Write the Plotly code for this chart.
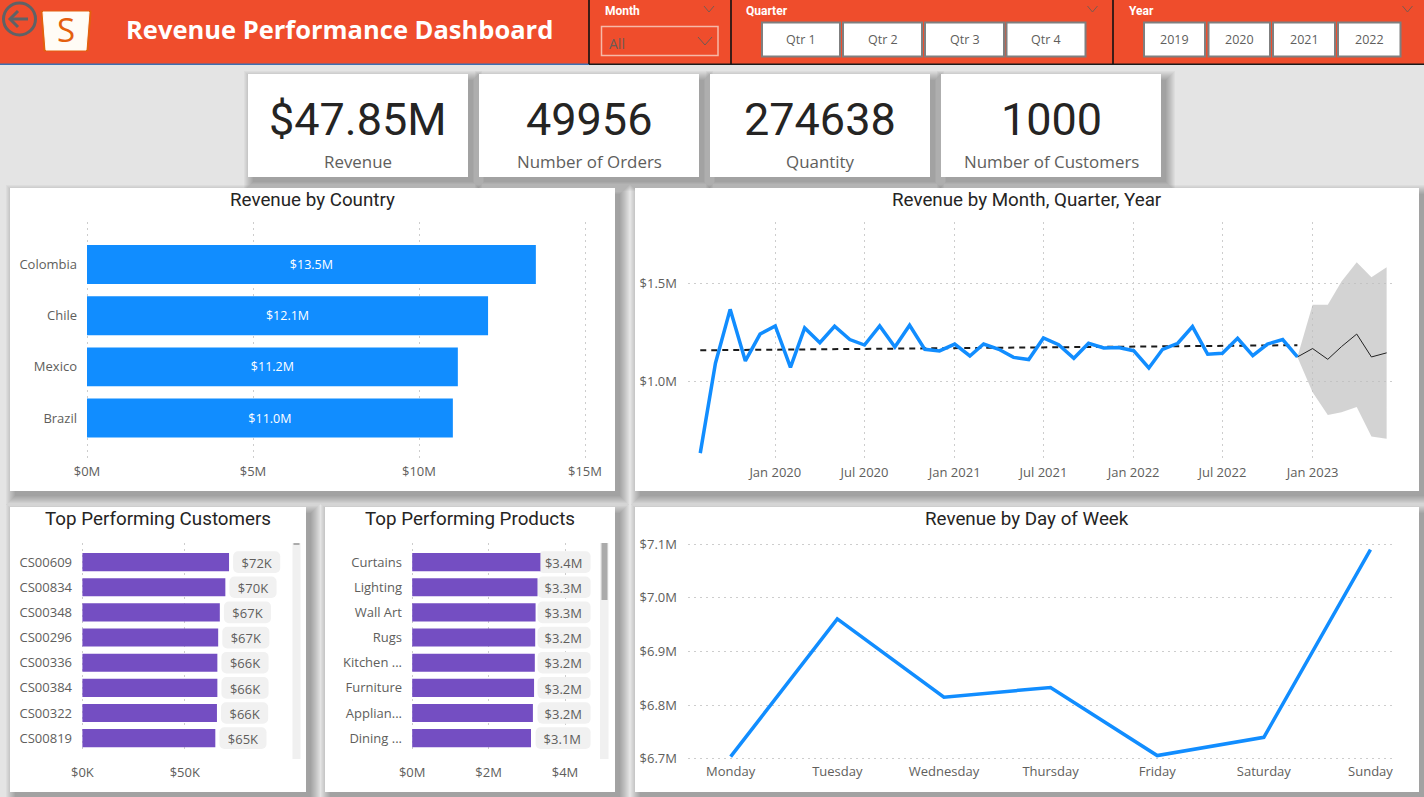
import pandas as pd
import plotly.graph_objects as go

W, H = 1424, 797

# ---------- data ----------
country_names = ["Colombia", "Chile", "Mexico", "Brazil"]
country_rev = [13.52, 12.08, 11.17, 11.02]
country_text = ["$13.5M", "$12.1M", "$11.2M", "$11.0M"]

month_rev = [0.633, 1.092, 1.367, 1.104, 1.241, 1.282, 1.071, 1.272, 1.197, 1.281, 1.213,
             1.185, 1.282, 1.175, 1.286, 1.163, 1.155, 1.190, 1.129, 1.190, 1.163, 1.122,
             1.111, 1.221, 1.187, 1.117, 1.194, 1.170, 1.172, 1.156, 1.068, 1.163, 1.194,
             1.279, 1.138, 1.143, 1.219, 1.131, 1.190, 1.213, 1.124]
month_dates = pd.date_range("2019-08-01", periods=len(month_rev), freq="MS")
trend_dates = ["2019-08-01", "2022-12-01"]
trend_vals = [1.158, 1.184]
fc_dates = ["2022-12-01", "2023-01-01", "2023-02-01", "2023-03-01", "2023-04-01", "2023-05-01", "2023-06-01"]
fc_mid = [1.124, 1.167, 1.112, 1.177, 1.241, 1.124, 1.145]
fc_up = [1.124, 1.391, 1.391, 1.509, 1.607, 1.531, 1.582]
fc_lo = [1.124, 0.944, 0.828, 0.842, 0.869, 0.718, 0.706]
month_ticks = ["2020-01-01", "2020-07-01", "2021-01-01", "2021-07-01", "2022-01-01", "2022-07-01", "2023-01-01"]
month_ticktext = ["Jan 2020", "Jul 2020", "Jan 2021", "Jul 2021", "Jan 2022", "Jul 2022", "Jan 2023"]

cust_names = ["CS00609", "CS00834", "CS00348", "CS00296", "CS00336", "CS00384", "CS00322", "CS00819"]
cust_rev = [71.6, 69.8, 67.1, 66.3, 65.9, 65.9, 65.7, 64.9]
cust_text = ["$72K", "$70K", "$67K", "$67K", "$66K", "$66K", "$66K", "$65K"]

prod_names = ["Curtains", "Lighting", "Wall Art", "Rugs", "Kitchen ...", "Furniture", "Applian...", "Dining ..."]
prod_rev = [3.356, 3.28, 3.23, 3.22, 3.21, 3.19, 3.16, 3.11]
prod_text = ["$3.4M", "$3.3M", "$3.3M", "$3.2M", "$3.2M", "$3.2M", "$3.2M", "$3.1M"]

days = ["Monday", "Tuesday", "Wednesday", "Thursday", "Friday", "Saturday", "Sunday"]
day_rev = [6.704, 6.961, 6.815, 6.833, 6.706, 6.740, 7.090]

kpi_values = ["$47.85M", "49956", "274638", "1000"]
kpi_labels = ["Revenue", "Number of Orders", "Quantity", "Number of Customers"]
quarters = ["Qtr 1", "Qtr 2", "Qtr 3", "Qtr 4"]
years = ["2019", "2020", "2021", "2022"]

# ---------- style ----------
ORANGE = "#EF4D2C"
BG = "#E4E4E4"
BLUE = "#118DFF"
PURPLE = "#744EC2"
PILL = "#F1F1F1"
GRID = "#CDCDCD"
TICK = "#605E5C"
TITLE = "#252423"
BODY = "Open Sans"
HEAD = "Roboto"
NUM = "Roboto"
GDASH = "2px,4px"

shapes, annos = [], []


def X(p):
    return p / W


def Y(p):
    return 1 - p / H


def rect(x0, y0, x1, y1, fill, line=None, lw=0, opacity=1):
    shapes.append(dict(type="rect", xref="paper", yref="paper", x0=X(x0), x1=X(x1), y0=Y(y0), y1=Y(y1),
                       fillcolor=fill, opacity=opacity, layer="below",
                       line=dict(color=line or fill, width=lw)))


def path(points, color, width, fill="rgba(0,0,0,0)", close=False):
    d = "M " + " L ".join(f"{X(a):.5f},{Y(b):.5f}" for a, b in points) + (" Z" if close else "")
    shapes.append(dict(type="path", xref="paper", yref="paper", path=d, fillcolor=fill, layer="below",
                       line=dict(color=color, width=width)))


def text(x, y, s, size, color, font=BODY, anchor="center", bold=False):
    annos.append(dict(xref="paper", yref="paper", x=X(x), y=Y(y), text=f"<b>{s}</b>" if bold else s,
                      showarrow=False, xanchor=anchor, yanchor="middle",
                      font=dict(family=font, size=size, color=color)))


def shadow_card(x0, y0, x1, y1):
    for s in range(9, -1, -1):
        rect(x0 + 5 - s, y0 + 6 - s, x1 + 5 + s, y1 + 5 + s, "#000000", opacity=0.03)
    rect(x0, y0, x1, y1, "#FFFFFF")


def chevron(cx, cy, hw, hh, color):
    path([(cx - hw, cy - hh), (cx, cy + hh), (cx + hw, cy - hh)], color, 1)


# ---------- header ----------
rect(0, 0, W, 64, ORANGE)
rect(0, 63.5, 589, 65, "#3E6FB0")
rect(589, 63.5, W, 65, "#1A1A1A")
for bx in (589, 731, 1113):
    rect(bx - 0.8, 0, bx + 0.8, 64, "#111111")

shapes.append(dict(type="circle", xref="paper", yref="paper", x0=X(3.5), x1=X(35.5), y0=Y(35), y1=Y(3),
                   line=dict(color="#5F6266", width=3), layer="below"))
path([(28, 19), (10, 19)], "#5F6266", 3)
path([(18, 11), (10, 19), (18, 27)], "#5F6266", 3)
path([(41, 11), (91, 11), (88, 51), (44, 51)], "#E4600F", 1, fill="#E4600F", close=True)
path([(43, 12), (89, 12), (86, 50), (46, 50)], "#FFFCF6", 1, fill="#FFFCF6", close=True)
text(65.5, 30, "S", 33, "#E4600F", font="Open Sans")
text(339, 29, "Revenue Performance Dashboard", 25.5, "#FFFFFF", font="Open Sans", bold=True)

text(603, 11, "Month", 12, "#FFFFFF", font=HEAD, anchor="left", bold=True)
text(744, 11, "Quarter", 12, "#FFFFFF", font=HEAD, anchor="left", bold=True)
text(1127, 11, "Year", 12, "#FFFFFF", font=HEAD, anchor="left", bold=True)
chevron(709, 9, 5, 3, "#7A5A50")
chevron(1092.5, 9, 5, 3, "#7A5A50")
chevron(1407.5, 9, 5, 3, "#7A5A50")
rect(601.5, 26.5, 718, 55.5, ORANGE, line="#F6B9A8", lw=1.5)
text(607, 43, "All", 14, "#6B5B55", anchor="left")
chevron(705, 41, 7, 4, "#6B5B55")

for q, (a, b) in zip(quarters, [(762, 840), (843, 922), (925, 1004), (1006.5, 1085.5)]):
    rect(a, 22.5, b, 56.5, "#FFFFFF", line="#7F7F7F", lw=2)
    text((a + b) / 2, 40, q, 12.5, TICK)
for yr, (a, b) in zip(years, [(1144, 1205), (1208.5, 1270), (1273, 1335), (1338, 1400.5)]):
    rect(a, 22.5, b, 56.5, "#FFFFFF", line="#7F7F7F", lw=2)
    text((a + b) / 2, 40, yr, 12.5, TICK)

# ---------- cards ----------
for i, (a, b) in enumerate([(248, 468), (479, 699), (710, 930), (941, 1161)]):
    shadow_card(a, 74, b, 177)
    text((a + b) / 2, 119, kpi_values[i], 45, TITLE, font=NUM)
    text((a + b) / 2, 161, kpi_labels[i], 16.9, TICK)

shadow_card(10, 188, 615, 491)
shadow_card(635, 188, 1419, 491)
shadow_card(10, 507, 306, 792)
shadow_card(325, 507, 615, 792)
shadow_card(635, 507, 1419, 792)

for cx, cy, t in [(312.5, 200, "Revenue by Country"), (1027, 200, "Revenue by Month, Quarter, Year"),
                  (158, 519, "Top Performing Customers"), (470, 519, "Top Performing Products"),
                  (1027, 519, "Revenue by Day of Week")]:
    text(cx, cy, t, 18.8, TITLE, font=HEAD)

# scrollbars
rect(292.5, 543, 300.5, 759, "#F0F0F0")
rect(293.5, 543, 299.5, 545, "#ABABAB")
rect(600, 543, 608.5, 759, "#F0F0F0")
rect(601.5, 543, 607.5, 600, "#ABABAB")

# ---------- axes ----------
tf = dict(family=BODY, size=13, color=TICK)
layout = dict(width=W, height=H, margin=dict(l=0, r=0, t=0, b=0, pad=0), paper_bgcolor=BG, plot_bgcolor="rgba(0,0,0,0)",
              showlegend=False, autosize=False, hovermode=False, barmode="overlay")


def axes(n, xpx, ypx, xax, yax):
    sfx = str(n) if n > 1 else ""
    base = dict(showline=False, zeroline=False, ticks="", tickfont=tf, fixedrange=True, automargin=False)
    layout["xaxis" + sfx] = {**base, "domain": [X(xpx[0]), X(xpx[1])], "anchor": "y" + sfx, **xax}
    layout["yaxis" + sfx] = {**base, "domain": [Y(ypx[1]), Y(ypx[0])], "anchor": "x" + sfx, **yax}


g = dict(showgrid=True, gridcolor=GRID, griddash=GDASH, gridwidth=1)
ng = dict(showgrid=False)

# country
sx = 33.2
axes(1, (85, 592), (222, 458),
     dict(range=[-2 / sx, (592 - 87) / sx], tickvals=[0, 5, 10, 15], ticktext=["$0M", "$5M", "$10M", "$15M"],
          ticklabelstandoff=4, **g),
     dict(type="category", range=[3.78, -0.83], categoryorder="array", categoryarray=country_names,
          ticklabelstandoff=7, **ng))
# month
axes(2, (688, 1393), (222, 460),
     dict(type="date", range=["2019-07-07", "2023-06-14"], tickvals=month_ticks, ticktext=month_ticktext,
          ticklabelstandoff=3, **g),
     dict(range=[0.598, 1.813], tickvals=[1.0, 1.5], ticktext=["$1.0M", "$1.5M"], ticklabelstandoff=10, **g))
# customers
sx = 2.048
axes(3, (80, 285), (543, 753),
     dict(range=[-2.4 / sx, (285 - 82.4) / sx], tickvals=[0, 50], ticktext=["$0K", "$50K"], ticklabelstandoff=10, **g),
     dict(type="category", range=[7.59, -0.76], categoryorder="array", categoryarray=cust_names,
          ticklabelstandoff=7, **ng))
# products
sx = 38.2
axes(4, (410, 595), (543, 753),
     dict(range=[-2.2 / sx, (595 - 412.2) / sx], tickvals=[0, 2, 4], ticktext=["$0M", "$2M", "$4M"],
          ticklabelstandoff=10, **g),
     dict(type="category", range=[7.59, -0.76], categoryorder="array", categoryarray=prod_names,
          ticklabelstandoff=7, **ng))
# day of week
axes(5, (688, 1395), (540, 762),
     dict(type="category", range=[-0.40, 6.23], categoryorder="array", categoryarray=days,
          ticklabelstandoff=0, **ng),
     dict(range=[6.694, 7.108], tickvals=[6.7, 6.8, 6.9, 7.0, 7.1],
          ticktext=["$6.7M", "$6.8M", "$6.9M", "$7.0M", "$7.1M"], ticklabelstandoff=10, **g))

# hidden overlay axes that carry the pill labels, nudged a little below the row centres
LABEL_NUDGE = 0.1
layout["yaxis6"] = dict(overlaying="y3", anchor="x3", visible=False, fixedrange=True, automargin=False,
                        range=[7.59 - LABEL_NUDGE, -0.76 - LABEL_NUDGE])
layout["yaxis7"] = dict(overlaying="y4", anchor="x4", visible=False, fixedrange=True, automargin=False,
                        range=[7.59 - LABEL_NUDGE, -0.76 - LABEL_NUDGE])

fig = go.Figure()
fig.update_layout(**layout)

# ---------- traces ----------
fig.add_trace(go.Bar(y=country_names, x=country_rev, orientation="h", xaxis="x", yaxis="y", width=0.76,
                     marker=dict(color=BLUE, line=dict(width=0)), text=country_text, textposition="inside",
                     insidetextanchor="middle", textangle=0, constraintext="none",
                     textfont=dict(family=BODY, size=12.5, color="#FFFFFF")))

fig.add_trace(go.Scatter(x=fc_dates + fc_dates[::-1], y=fc_up + fc_lo[::-1], mode="lines", fill="toself",
                         fillcolor="rgba(190,190,190,0.68)", line=dict(width=0), xaxis="x2", yaxis="y2"))
fig.add_trace(go.Scatter(x=fc_dates, y=fc_mid, mode="lines", line=dict(color="#222222", width=1),
                         xaxis="x2", yaxis="y2"))
fig.add_trace(go.Scatter(x=trend_dates, y=trend_vals, mode="lines",
                         line=dict(color="#1A1A1A", width=2, dash="6px,5px"), xaxis="x2", yaxis="y2"))
fig.add_trace(go.Scatter(x=month_dates, y=month_rev, mode="lines", line=dict(color=BLUE, width=3.5),
                         xaxis="x2", yaxis="y2"))

PILL_W_C = 23.0
cust_pill_start = [v + 2 for v in cust_rev]
fig.add_trace(go.Bar(y=cust_names, x=[PILL_W_C] * 8, base=cust_pill_start, orientation="h",
                     xaxis="x3", yaxis="y3", width=0.86, marker=dict(color=PILL, cornerradius=5, line=dict(width=0))))
fig.add_trace(go.Bar(y=cust_names, x=cust_rev, orientation="h", xaxis="x3", yaxis="y3", width=0.72,
                     marker=dict(color=PURPLE, line=dict(width=0))))
fig.add_trace(go.Scatter(y=list(range(len(cust_names))), x=[s + PILL_W_C / 2 for s in cust_pill_start], mode="text",
                         text=cust_text, textposition="middle center", textfont=tf, xaxis="x3", yaxis="y6"))

prod_pill_start = [3.30, 3.28, 3.28, 3.28, 3.28, 3.28, 3.28, 3.23]
PROD_PILL_END = 4.67
fig.add_trace(go.Bar(y=prod_names, x=[PROD_PILL_END - s for s in prod_pill_start], base=prod_pill_start,
                     orientation="h", xaxis="x4", yaxis="y4", width=0.86,
                     marker=dict(color=PILL, cornerradius=5, line=dict(width=0))))
fig.add_trace(go.Bar(y=prod_names, x=prod_rev, orientation="h", xaxis="x4", yaxis="y4", width=0.72,
                     marker=dict(color=PURPLE, line=dict(width=0))))
fig.add_trace(go.Scatter(y=list(range(len(prod_names))), x=[(s + PROD_PILL_END) / 2 - 0.02 for s in prod_pill_start],
                         mode="text", text=prod_text, textposition="middle center", textfont=tf,
                         xaxis="x4", yaxis="y7"))

fig.add_trace(go.Scatter(x=days, y=day_rev, mode="lines", line=dict(color=BLUE, width=3.5),
                         xaxis="x5", yaxis="y5"))

fig.update_layout(shapes=shapes, annotations=annos)

fig.write_html("out.html", config=dict(displayModeBar=False),
               post_script="document.documentElement.style.overflow='hidden';document.body.style.margin='0';document.body.style.overflow='hidden';")
